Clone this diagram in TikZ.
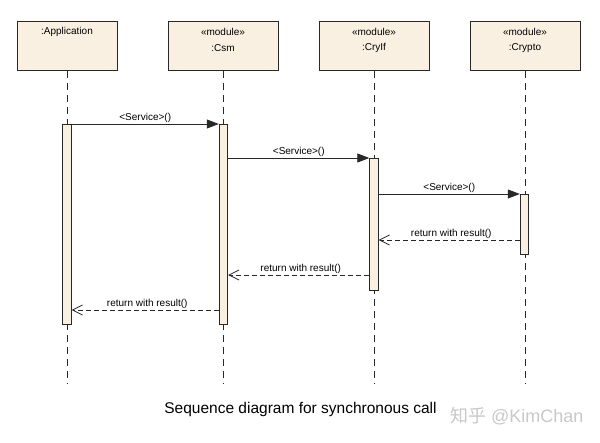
\documentclass[tikz,border=0pt]{standalone}
\usepackage{fontspec}
\setmainfont{Liberation Sans}
\newfontfamily\cjk{Noto Sans CJK SC}
\usetikzlibrary{arrows.meta}
\definecolor{boxfill}{RGB}{250,240,226}
\definecolor{linec}{RGB}{40,40,40}
\tikzset{
  objbox/.style={draw=linec, line width=0.9pt, fill=boxfill, minimum width=100pt, minimum height=49pt, inner sep=0pt, anchor=north},
  actbar/.style={draw=linec, line width=0.9pt, fill=boxfill, minimum width=8.5pt, inner sep=0pt, anchor=north},
  lifeline/.style={draw=linec, line width=0.9pt, dash pattern=on 7pt off 5pt},
  callmsg/.style={draw=linec, line width=0.8pt, -{Triangle[length=12pt,width=9pt]}},
  retmsg/.style={draw=linec, line width=0.8pt, dash pattern=on 5pt off 3pt, -{Straight Barb[length=10pt,width=10pt]}},
  lbl/.style={font=\fontsize{10pt}{12pt}\selectfont, text=black, inner sep=1pt},
}
\begin{document}
\begin{tikzpicture}[x=1pt,y=-1pt]
\useasboundingbox (0,0) rectangle (600,442);
% object boxes
\node[objbox] (app) at (67,21) {};
\node[objbox, minimum width=110pt] (csm) at (223,21) {};
\node[objbox, minimum width=110pt] (cryif) at (374,21) {};
\node[objbox, minimum width=110pt] (crypto) at (525,21) {};
\node[lbl] (tApp) at (67,32) {:Application};
\node[lbl] (sCsm) at (223,32) {«module»};
\node[lbl] (tCsm) at (223,48) {:Csm};
\node[lbl] (sIf) at (374,32) {«module»};
\node[lbl] (tIf) at (374,48) {:CryIf};
\node[lbl] (sCr) at (525,32) {«module»};
\node[lbl] (tCr) at (525,48) {:Crypto};
% lifeline ends
\coordinate (eApp) at (67,383);
\coordinate (eCsm) at (223,383);
\coordinate (eIf) at (374,383);
\coordinate (eCr) at (525,383);
\draw[lifeline] (app.south) -- (eApp);
\draw[lifeline] (csm.south) -- (eCsm);
\draw[lifeline] (cryif.south) -- (eIf);
\draw[lifeline] (crypto.south) -- (eCr);
% activation bars
\node[actbar, minimum height=200pt] (aApp) at (67,124) {};
\node[actbar, minimum height=200pt] (aCsm) at (223.5,124) {};
\node[actbar, minimum height=132pt] (aIf) at (374,158) {};
\node[actbar, minimum height=60pt] (aCr) at (524.5,194) {};
% message levels
\coordinate (m2) at (0,158);
\coordinate (m3) at (0,194);
\coordinate (r1) at (0,240);
\coordinate (r2) at (0,275);
\coordinate (r3) at (0,310);
% calls
\draw[callmsg] (aApp.north east) -- node[lbl, above=0.5pt] {<Service>()} (aCsm.north west);
\draw[callmsg] (aCsm.east |- m2) -- node[lbl, above=0.5pt] {<Service>()} (aIf.north west);
\draw[callmsg] (aIf.east |- m3) -- node[lbl, above=0.5pt] {<Service>()} (aCr.north west);
% returns
\draw[retmsg] (aCr.west |- r1) -- node[lbl, above=0.5pt, xshift=2pt] {return with result()} (aIf.east |- r1);
\draw[retmsg] (aIf.west |- r2) -- node[lbl, above=0.5pt, xshift=2pt] {return with result()} (aCsm.east |- r2);
\draw[retmsg] (aCsm.west |- r3) -- node[lbl, above=0.5pt, xshift=2pt] {return with result()} (aApp.east |- r3);
% caption
\node[font=\fontsize{15.5pt}{18pt}\selectfont, inner sep=0pt] (cap) at (300.5,409) {Sequence diagram for synchronous call};
\node[font=\fontsize{18pt}{20pt}\selectfont, text={rgb,255:red,200;green,200;blue,200}, inner sep=0pt, anchor=west] (wm) at (450,416) {{\cjk 知乎} @KimChan};
\end{tikzpicture}
\end{document}
